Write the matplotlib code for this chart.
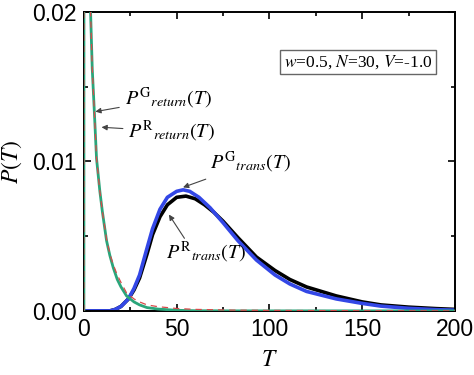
import matplotlib
matplotlib.use("Agg")
import matplotlib.pyplot as plt

plt.rcParams['mathtext.fontset'] = 'stix'
plt.rcParams['font.family'] = 'Liberation Sans'

## Return probability, G and R
t_ret = [0, 0.6, 2.5, 3, 3.6, 4.5, 5.6, 6.8, 8.6, 10, 12.2, 14, 15.8, 18, 20, 23, 27, 30, 34, 40, 50, 60, 80, 100, 150, 200]
p_ret_g = [0, 0.5, 0.05, 0.03, 0.02, 0.0162, 0.0134, 0.0102, 0.0080, 0.0066, 0.0047, 0.0037, 0.0029, 0.0021, 0.0016,
           0.0010, 0.0006, 0.0004, 0.00022, 0.00012, 0.00004, 0.00001, 0, 0, 0, 0]
p_ret_r = [0, 0.5, 0.05, 0.03, 0.02, 0.0162, 0.0134, 0.0102, 0.0080, 0.0066, 0.0048, 0.0038, 0.0031, 0.0024, 0.0019,
           0.0012, 0.0008, 0.0006, 0.0004, 0.00028, 0.00016, 0.0001, 0.00005, 0.00003, 0.00001, 0]

## Transmission probability, G and R
t_tr_g = [0, 10, 14, 17, 20, 24, 27, 30, 33.8, 37, 41, 45, 50, 53.5, 57, 62, 68, 75, 83, 93, 103, 111, 120, 136, 150, 160, 175, 190, 200]
p_tr_g = [0, 0, 0, 0.0001, 0.0003, 0.0008, 0.0015, 0.0024, 0.0041, 0.0055, 0.0068, 0.0076, 0.0080, 0.0081, 0.0080, 0.0076,
          0.0069, 0.0059, 0.0047, 0.0034, 0.0024, 0.0018, 0.0013, 0.0008, 0.0005, 0.00032, 0.00017, 0.00008, 0.00005]
t_tr_r = [0, 14, 17, 20, 24, 27, 30, 34, 37, 41, 45, 50, 55, 60, 65, 70, 75, 83, 93, 103, 111, 120, 136, 150, 160, 175, 190, 200]
p_tr_r = [0, 0, 0.0001, 0.0003, 0.0008, 0.0014, 0.0022, 0.0038, 0.0051, 0.0063, 0.0071, 0.0076, 0.00768, 0.0075, 0.0071,
          0.0066, 0.0060, 0.0049, 0.0036, 0.0027, 0.0021, 0.0016, 0.0010, 0.0006, 0.0004, 0.00025, 0.00015, 0.0001]

fig = plt.figure(figsize=(4.74, 3.75), dpi=100)
ax = fig.add_axes([0.177, 0.171, 0.783, 0.797])

ax.plot(t_tr_r, p_tr_r, color='black', lw=2.6)
ax.plot(t_tr_g, p_tr_g, color='#3347e6', lw=2.6)
ax.plot(t_ret, p_ret_g, color='#2aa57a', lw=2.0, zorder=3)
ax.plot(t_ret, p_ret_r, color='#d84a4a', lw=0.9, ls=(0, (5, 4)), zorder=3)

ax.set_xlim(0, 200)
ax.set_ylim(0, 0.02)
ax.set_xticks([0, 50, 100, 150, 200])
ax.set_xticks([25, 75, 125, 175], minor=True)
ax.set_yticks([0, 0.01, 0.02])
ax.set_yticks([0.005, 0.015], minor=True)
ax.set_yticklabels(['0.00', '0.01', '0.02'])
ax.tick_params(which='both', direction='in', top=True, right=True, labelsize=16.5, width=1.2)
ax.tick_params(which='major', length=5, pad=5)
ax.tick_params(which='minor', length=3)
for s in ax.spines.values():
    s.set_linewidth(1.4)

ax.set_xlabel('$T$', fontsize=17, labelpad=6)
ax.set_ylabel('$P(T)$', fontsize=17, labelpad=6)

arr = dict(arrowstyle='-|>', color='#444444', lw=0.8, mutation_scale=8)
ax.annotate(r'$P^{\mathrm{G}}{}_{return}(T)$', xy=(4.7, 0.0133), xytext=(22, 0.0142),
            fontsize=14.5, arrowprops=arr, va='center')
ax.annotate(r'$P^{\mathrm{R}}{}_{return}(T)$', xy=(8, 0.0123), xytext=(24, 0.0120),
            fontsize=14.5, arrowprops=arr, va='center')
ax.annotate(r'$P^{\mathrm{G}}{}_{trans}(T)$', xy=(52, 0.0082), xytext=(68, 0.0099),
            fontsize=14.5, arrowprops=arr, va='center')
ax.text(44, 0.0039, r'$P^{\mathrm{R}}{}_{trans}(T)$', fontsize=14.5, va='center')
ax.annotate('', xy=(45, 0.0066), xytext=(55, 0.0047), arrowprops=arr)

ax.text(0.938, 0.833, '$w$=0.5, $N$=30, $V$=-1.0', transform=ax.transAxes, ha='right', va='center',
        fontsize=12.5, family='Liberation Serif', math_fontfamily='stix',
        bbox=dict(boxstyle='square,pad=0.2', fc='white', ec='#666666', lw=1))

fig.savefig('out.png', dpi=100)
